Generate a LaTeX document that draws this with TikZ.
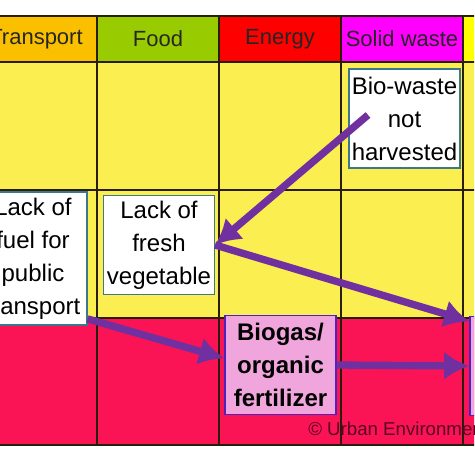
\documentclass[tikz,border=0pt]{standalone}
\usepackage{fontspec}
\setmainfont{Liberation Sans}
\usetikzlibrary{arrows.meta}
\definecolor{headorange}{RGB}{250,192,0}
\definecolor{headgreen}{RGB}{153,204,0}
\definecolor{headred}{RGB}{255,0,0}
\definecolor{headmagenta}{RGB}{255,0,255}
\definecolor{headyellow}{RGB}{255,255,0}
\definecolor{cellyellow}{RGB}{250,238,80}
\definecolor{cellpink}{RGB}{250,20,85}
\definecolor{boxpink}{RGB}{240,165,220}
\definecolor{arrowpurple}{RGB}{112,48,160}
\definecolor{gridline}{RGB}{40,30,10}
\definecolor{boxline}{RGB}{60,120,140}
\definecolor{copytext}{RGB}{90,5,35}
\tikzstyle{head} = [draw=gridline, line width=1.2pt, minimum width=91.5pt,
    minimum height=34.5pt, inner sep=0pt, text=black!85,
    font=\fontsize{16.5}{20}\selectfont]
\tikzstyle{cause} = [draw=boxline, fill=white, line width=0.8pt, align=center,
    minimum width=83.25pt, minimum height=74.25pt, inner sep=0pt,
    font=\fontsize{18}{24.75}\selectfont]
\tikzstyle{effect} = [cause, draw=arrowpurple!70!blue, fill=boxpink,
    font=\fontsize{18}{24.75}\selectfont\bfseries]
\tikzstyle{link} = [->, draw=arrowpurple, line width=5.5pt]
\tikzset{>={Latex[length=19pt,width=21pt]}}

\begin{document}
\begin{tikzpicture}[x=0.75pt, y=-0.75pt]
\useasboundingbox (0,0) rectangle (474,474);
\clip (0,0) rectangle (474,474);
\fill[white] (0,0) rectangle (474,474);
    %cells
    \fill[cellyellow] (-25,62) rectangle (520,318);
    \fill[cellpink] (-25,318) rectangle (520,445);
    \foreach \x in {97,219,341,463}
        \draw[gridline, line width=1.2pt] (\x,62) -- (\x,445);
    \foreach \y in {190,318,445}
        \draw[gridline, line width=1.2pt] (-25,\y) -- (520,\y);
    %headers
    \node[head, fill=headorange] (transport) at (36,39) {Transport};
    \node[head, fill=headgreen] (food) at (158,39) {Food};
    \node[head, fill=headred] (energy) at (280,39) {Energy};
    \node[head, fill=headmagenta] (waste) at (402,39) {Solid waste};
    \node[head, fill=headyellow] (next) at (524,39) {};
    %boxes
    \node[cause] (biowaste) at (404.5,118.5) {Bio-waste\\not\\harvested};
    \node[cause] (vegetable) at (159,245) {Lack of\\fresh\\vegetable};
    \node[cause, minimum width=81pt, minimum height=99.75pt] (fuel) at (33,258.5)
        {Lack of\\fuel for\\public\\transport};
    \node[effect] (biogas) at (280.5,365) {Biogas/\\organic\\fertilizer};
    \node[effect] (rbox) at (525.5,366) {};
    %arrows
    \coordinate (bwstart) at (368,115);
    \draw[link] (bwstart) -- (vegetable.east);
    \draw[link] (vegetable.east) -- ([yshift=-4]rbox.north west);
    \draw[link] ([yshift=5]fuel.south east) -- ([yshift=5]biogas.west);
    \draw[link] (biogas.east) -- (rbox.west);
    %labels
    \node[anchor=base west, inner sep=0pt, text=copytext,
        font=\fontsize{14}{16}\selectfont] (copyright) at (308,435)
        {© Urban Environment};
\end{tikzpicture}
\end{document}
